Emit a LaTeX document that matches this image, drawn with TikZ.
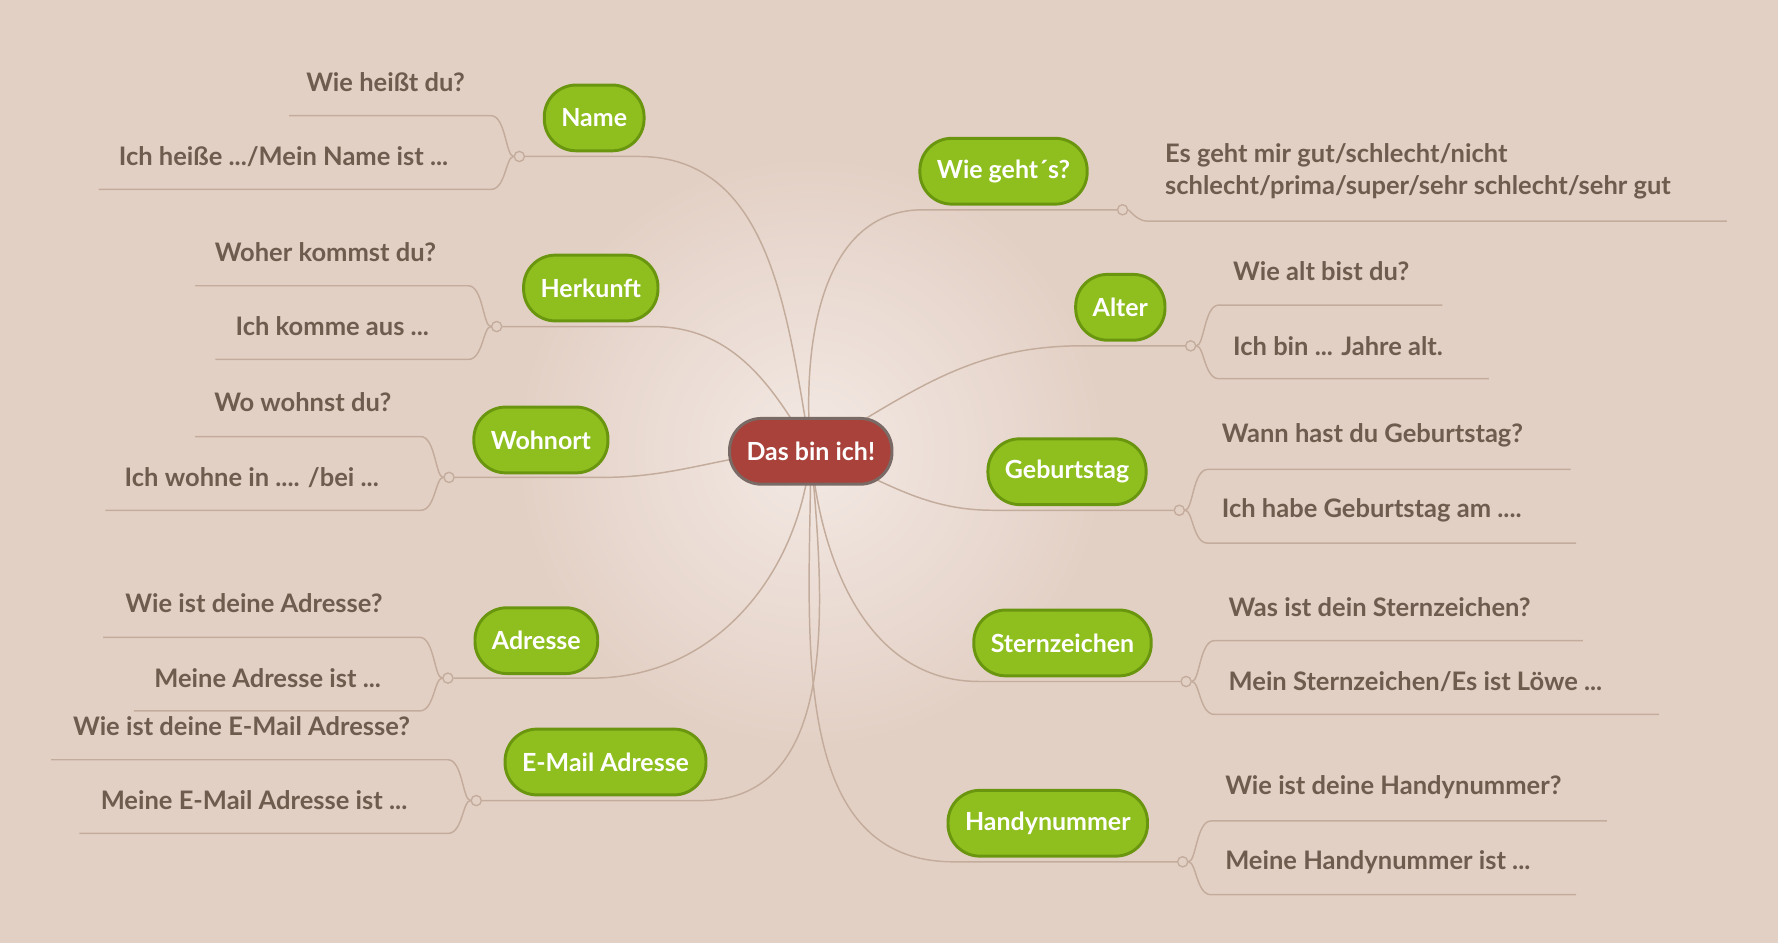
\documentclass[tikz,border=0pt]{standalone}
\usepackage{fontspec}
\setmainfont{Lato}
\definecolor{bg}{HTML}{E3D0C5}
\definecolor{glow}{HTML}{F3E9E4}
\definecolor{gr}{HTML}{8FBF1E}
\definecolor{grd}{HTML}{6A960F}
\definecolor{rd}{HTML}{A8423A}
\definecolor{rdb}{HTML}{7A6A66}
\definecolor{tx}{HTML}{6E5C4F}
\definecolor{ln}{HTML}{C4AC9C}
\tikzset{
 topic/.style={rounded corners=28pt,fill=gr,draw=grd,line width=2.6pt,text=white,font=\fontsize{22}{24}\selectfont\bfseries,minimum height=58pt,inner xsep=15pt},
 center/.style={rounded corners=28pt,fill=rd,draw=rdb,line width=2.6pt,text=white,font=\fontsize{22}{24}\selectfont\bfseries,minimum height=58pt,inner xsep=15pt},
 leaf/.style={text=tx,font=\fontsize{22.5}{28}\selectfont\bfseries},
 conn/.style={draw=ln,line width=1.3pt},
 junc/.style={circle,draw=ln,fill=bg,line width=1.2pt,inner sep=0pt,minimum size=9pt}
}
\begin{document}
\begin{tikzpicture}[x=1pt,y=-1pt]
\fill[bg] (0,0) rectangle (1568,832);
\useasboundingbox (0,0) rectangle (1568,832);
\shade[inner color=glow,outer color=bg] (715,398) circle (260);
\coordinate (c) at (715,398);
% left topics
\foreach \nm/\tx/\nx/\ny/\jx/\jy/\ua/\la/\ta/\tax/\tb/\tbx/\ho in {
 name/Name/524/104/458/138/255/87/{Wie heißt du?}/340/{Ich heiße .../Mein Name ist ...}/250/100,
 herk/Herkunft/521/254/438/288/172/190/{Woher kommst du?}/287/{Ich komme aus ...}/293/120,
 wohn/Wohnort/477/388/396/421/172/93/{Wo wohnst du?}/267/{Ich wohne in .... /bei ...}/222/180,
 adr/Adresse/473/565/395/598/91/118/{Wie ist deine Adresse?}/224/{Meine Adresse ist ...}/236/-95,
 mail/E-Mail Adresse/534/672/420/706/45/70/{Wie ist deine E-Mail Adresse?}/213/{Meine E-Mail Adresse ist ...}/224/-85}{
 \node[topic] (\nm) at (\nx,\ny) {\tx};
 \coordinate (\nm e) at (\nm.south east|-0,\jy);
 \coordinate (\nm e) at ([xshift=-6pt]\nm e);
 \node[junc] (\nm j) at (\jx,\jy) {};
 \draw[conn] (c) to[out=\ho,in=0] (\nm e) -- (\nm j);
 \draw[conn] (\nm j.west) .. controls (\jx-12,\jy) and (\jx-12,\jy-36) .. (\jx-25,\jy-36) -- (\ua,\jy-36);
 \draw[conn] (\nm j.west) .. controls (\jx-12,\jy) and (\jx-12,\jy+29) .. (\jx-25,\jy+29) -- (\la,\jy+29);
 \node[leaf] (\nm a) at (\tax,\jy-66) {\ta};
 \node[leaf] (\nm b) at (\tbx,\jy) {\tb};
}
% right topics
\foreach \nm/\tx/\nx/\ny/\jx/\jy/\ua/\la/\ta/\tb/\ho in {
 alter/Alter/988/271/1050/305/1272/1313/{Wie alt bist du?}/{Ich bin ... Jahre alt.}/30,
 geb/Geburtstag/941/416/1040/450/1385/1390/{Wann hast du Geburtstag?}/{Ich habe Geburtstag am ....}/-20,
 stern/Sternzeichen/937/567/1046/601/1396/1463/{Was ist dein Sternzeichen?}/{Mein Sternzeichen/Es ist Löwe ...}/-85,
 handy/Handynummer/924/726/1043/760/1417/1390/{Wie ist deine Handynummer?}/{Meine Handynummer ist ...}/-90}{
 \node[topic] (\nm) at (\nx,\ny) {\tx};
 \coordinate (\nm e) at (\nm.south west|-0,\jy);
 \coordinate (\nm e) at ([xshift=6pt]\nm e);
 \node[junc] (\nm j) at (\jx,\jy) {};
 \draw[conn] (c) to[out=\ho,in=180] (\nm e) -- (\nm j);
 \draw[conn] (\nm j.east) .. controls (\jx+12,\jy) and (\jx+12,\jy-36) .. (\jx+25,\jy-36) -- (\ua,\jy-36);
 \draw[conn] (\nm j.east) .. controls (\jx+12,\jy) and (\jx+12,\jy+29) .. (\jx+25,\jy+29) -- (\la,\jy+29);
 \node[leaf,anchor=west] (\nm a) at (\jx+34,\jy-66) {\ta};
 \node[leaf,anchor=west] (\nm b) at (\jx+34,\jy) {\tb};
}
% Wie geht's
\node[topic] (wie) at (885,151) {Wie geht´s?};
\coordinate (wiee) at (814,185);
\node[junc] (wiej) at (990,185) {};
\coordinate (wiez) at (1523,195);
\draw[conn] (c) to[out=95,in=180] (wiee) -- (wiej);
\draw[conn] (wiej.east) .. controls (1000,190) and (1005,195) .. (1012,195) -- (wiez);
\node[leaf,anchor=north west,align=left] (wiet) at (1024,123) {Es geht mir gut/schlecht/nicht\\schlecht/prima/super/sehr schlecht/sehr gut};
\node[center] (cn) at (c) {Das bin ich!};
\end{tikzpicture}
\end{document}
